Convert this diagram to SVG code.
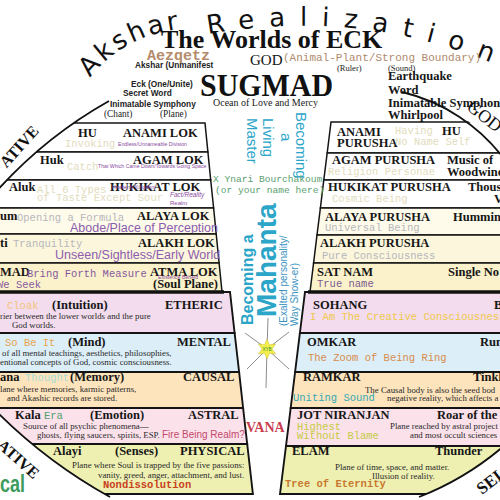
<svg xmlns="http://www.w3.org/2000/svg" width="500" height="500" viewBox="0 0 500 500">
<defs>
<clipPath id="cTL"><circle cx="324" cy="485" r="440"/></clipPath>
<clipPath id="cBL"><circle cx="358" cy="50" r="511"/></clipPath>
<clipPath id="cTR"><circle cx="364" cy="268" r="180"/></clipPath>
<clipPath id="cBR"><circle cx="310" cy="222" r="296"/></clipPath>
<path id="hw1" d="M 90 78 Q 128 30 195 28"/>
<path id="hw2" d="M 208 34 Q 360 8 494 64"/>
<style>
.L{font-family:"Liberation Serif",serif;font-weight:bold;font-size:12.5px;fill:#161616}
.d{font-family:"Liberation Serif",serif;font-size:8.8px;fill:#2a2a2a}
.m{font-family:"Liberation Mono","DejaVu Sans Mono",monospace;font-size:10.5px}
.t{font-family:"Liberation Sans",sans-serif;font-size:5.2px;fill:#8a4aa0}
.p{font-family:"Liberation Sans",sans-serif;font-size:12.5px;fill:#8c5cae}
.s{font-family:"Liberation Sans",sans-serif;font-weight:bold;font-size:8.3px;fill:#222}
.pale{fill:#e2dcbc}
.grey{fill:#b6b6bc}
.pur{fill:#86599f}
.edge{fill:none;stroke:#111;stroke-width:1.8}
.r{stroke:#141414;stroke-width:1.5}
.r2{stroke:#141414;stroke-width:1.9}
.ray{stroke:#8c8c8c;stroke-width:1}
.w{fill:#fff}.c1{fill:#fefbea}.c2{fill:#fcf6dc}.c3{fill:#fbf2cb}
.eth{fill:#f2dced}.men{fill:#dceef8}.cau{fill:#fde4bc}.ast{fill:#fbe1ea}.phy{fill:#eef0b2}
</style>
</defs>
<rect width="500" height="500" fill="#fff"/>

<g id="handwriting" font-family="DejaVu Sans, sans-serif" font-size="26" fill="#111">
<text><textPath href="#hw1" textLength="104" lengthAdjust="spacing">Akshar</textPath></text>
<text><textPath href="#hw2" textLength="288" lengthAdjust="spacing">Realization</textPath></text>
</g>

<g id="header">
<text x="161" y="48" font-family="Liberation Serif, serif" font-weight="bold" font-size="26" fill="#111">The Worlds of ECK</text>
<text x="147" y="60" font-family="Liberation Mono, monospace" font-weight="bold" font-size="15" fill="#b48c6c">Aezqetz</text>
<text x="135" y="68" class="s">Akshar (Unmanifest</text>
<text x="250" y="65" font-family="Liberation Serif, serif" font-size="15" fill="#111">GOD</text>
<text x="283" y="61" font-family="Liberation Mono, monospace" font-size="11" fill="#b08a6c">(Animal-Plant/Strong Boundary)</text>
<text x="131" y="87" class="s">Eck (One/Unite)</text>
<text x="123" y="96" class="s">Secret Word</text>
<text x="110" y="107" class="s">Inimatable Symphony</text>
<text x="104" y="117" font-family="Liberation Serif, serif" font-size="9.3" fill="#222">(Chant)</text>
<text x="160" y="117" font-family="Liberation Serif, serif" font-size="9.3" fill="#222">(Plane)</text>
<text x="200" y="96" font-family="Liberation Serif, serif" font-weight="bold" font-size="32" textLength="133" lengthAdjust="spacingAndGlyphs" fill="#111">SUGMAD</text>
<text x="213" y="106" font-family="Liberation Serif, serif" font-size="10" fill="#222">Ocean of Love and Mercy</text>
<text x="337" y="71" font-family="Liberation Serif, serif" font-size="8.5" fill="#222">(Ruler)</text>
<text x="388" y="71" font-family="Liberation Serif, serif" font-size="8.5" fill="#222">(Sound)</text>
<text x="388" y="80" class="L">Earthquake</text>
<text x="388" y="94" class="L">Word</text>
<text x="388" y="107" class="L">Inimatable Symphony</text>
<text x="388" y="119" class="L">Whirlpool</text>
</g>

<g id="left-upper" clip-path="url(#cTL)">
<g id="anami-lok"><polygon class="r w" points="-5,123 205,123 207.9,152 -5,152"/>
<text x="78" y="137" class="L">HU</text><text x="123" y="137" class="L">ANAMI LOK</text>
<text x="65" y="147" class="m pale">Invoking</text><text x="118" y="146" class="t">Endless/Unnameable Division</text></g>
<g id="agam-lok"><polygon class="r w" points="-5,152 207.9,152 210.7,180 -5,180"/>
<text x="40" y="164" class="L">Huk</text><text x="133" y="164" class="L">AGAM LOK</text>
<text x="67" y="170" class="m pale">Catch</text><text x="98" y="168" class="t">That Which Came Down/Towards Going Space</text></g>
<g id="hukikat-lok"><polygon class="r w" points="-5,180 210.7,180 213.6,208 -5,208"/>
<text x="9" y="191" class="L">Aluk</text><text x="37" y="193" class="m pale">All 6 Types</text>
<text x="110" y="191" class="L">HUKIKAT LOK</text><text x="112" y="189" class="t">Heavenly Kingdom</text>
<text x="170" y="197" font-family="Liberation Sans, sans-serif" font-size="6.5" font-style="italic" fill="#8a4aa0">Fact/Reality</text>
<text x="37" y="201" class="m pale">of Taste Except Sour</text>
<text x="170" y="205" font-family="Liberation Sans, sans-serif" font-size="6" fill="#8a4aa0">Realm</text></g>
<g id="alaya-lok"><polygon class="r c1" points="-5,208 213.6,208 216.2,234 -5,234"/>
<text x="0" y="220" class="L">um</text><text x="17" y="221" class="m grey">Opening a Formula</text>
<text x="137" y="220" class="L">ALAYA LOK</text><text x="70" y="232" class="p">Abode/Place of Perception</text></g>
<g id="alakh-lok"><polygon class="r c2" points="-5,234 216.2,234 219.1,263 -5,263"/>
<text x="0" y="247" class="L">ti</text><text x="13" y="247" class="m grey">Tranquility</text>
<text x="138" y="247" class="L">ALAKH LOK</text><text x="55" y="259" class="p">Unseen/Sightless/Early World</text></g>
<g id="atma-lok"><polygon class="r c3" points="-5,263 219.1,263 222,292 -5,292"/>
<text x="0" y="276" class="L">MAD</text><text x="27" y="277" class="m pur">Bring Forth Measure</text>
<text x="150" y="276" class="L">ATMA LOK</text><text x="158" y="279" class="t">Existence Beheld</text>
<text x="-3" y="288" class="m pur">We Seek</text><text x="153" y="288" class="L">(Soul Plane)</text></g>
</g>

<g id="left-lower" clip-path="url(#cBL)">
<g id="etheric"><polygon class="r2 eth" points="-5,292 230,292 234.6,333 -5,333"/>
<text x="7" y="309" class="m" fill="#f4c47c">Cloak</text><text x="52" y="309" class="L">(Intuition)</text>
<text x="165" y="309" class="L">ETHERIC</text>
<text x="0" y="319" class="d">rier between the lower worlds and the pure</text>
<text x="12" y="328" class="d">God worlds.</text></g>
<g id="mental"><polygon class="r2 men" points="-5,333 234.6,333 239.1,372 -5,372"/>
<text x="5" y="346" class="m" fill="#e8a44c">So Be It</text><text x="68" y="346" class="L">(Mind)</text>
<text x="177" y="346" class="L">MENTAL</text>
<text x="2" y="356" class="d">of all mental teachings, aesthetics, philosophies,</text>
<text x="0" y="365" class="d">entional concepts of God, cosmic consciousness.</text></g>
<g id="causal"><polygon class="r2 cau" points="-5,372 239.1,372 243.1,408 -5,408"/>
<text x="0" y="381" class="L">ana</text><text x="25" y="381" class="m" fill="#a8dcd6">Thought</text>
<text x="70" y="381" class="L">(Memory)</text><text x="183" y="381" class="L">CAUSAL</text>
<text x="0" y="392" class="d">lane where memories, karmic patterns,</text>
<text x="7" y="401" class="d">and Akashic records are stored.</text></g>
<g id="astral"><polygon class="r2 ast" points="-5,408 243.1,408 247.2,444 -5,444"/>
<text x="15" y="419" class="L">Kala</text><text x="44" y="419" class="m" fill="#4f9f6f">Era</text>
<text x="90" y="419" class="L">(Emotion)</text><text x="188" y="419" class="L">ASTRAL</text>
<text x="23" y="429" class="d">Source of all psychic phenomena—</text>
<text x="37" y="438" class="d">ghosts, flying saucers, spirits, ESP.</text>
<text x="162" y="438" font-family="Liberation Sans, sans-serif" font-size="10" fill="#c4486a">Fire Being Realm?</text></g>
<g id="physical"><polygon class="r2 phy" points="-5,444 247.2,444 252.9,494 -5,494"/>
<text x="53" y="455" class="L">Alayi</text><text x="115" y="455" class="L">(Senses)</text>
<text x="180" y="455" class="L">PHYSICAL</text>
<text x="72" y="468" class="d">Plane where Soul is trapped by the five passions:</text>
<text x="98" y="478" class="d">vanity, greed, anger, attachment, and lust.</text>
<text x="103" y="488" class="m" font-weight="bold" fill="#c8401c">Nondissolution</text></g>
</g>

<g id="right-upper" clip-path="url(#cTR)">
<g id="anami-purusha"><polygon class="r w" points="331,122 505,122 505,153 327.2,153"/>
<text x="337" y="136" class="L">ANAMI</text><text x="337" y="147" class="L">PURUSHA</text>
<text x="395" y="134" class="m pale">Having</text><text x="395" y="145" class="m pale">No Name Self</text>
<text x="442" y="135" class="L">HU</text></g>
<g id="agam-purusha"><polygon class="r w" points="327.2,153 505,153 505,180 323.8,180"/>
<text x="332" y="164" class="L">AGAM PURUSHA</text><text x="328" y="175" class="m pale">Religion Personae</text>
<text x="447" y="164" class="L">Music of</text><text x="447" y="176" class="L">Woodwind</text></g>
<g id="hukikat-purusha"><polygon class="r w" points="323.8,180 505,180 505,208 320.4,208"/>
<text x="328" y="191" class="L">HUKIKAT PURUSHA</text><text x="468" y="191" class="L">Thous</text>
<text x="332" y="202" class="m pale">Cosmic Being</text><text x="494" y="203" class="L">V</text></g>
<g id="alaya-purusha"><polygon class="r c1" points="320.4,208 505,208 505,235 317,235"/>
<text x="325" y="221" class="L">ALAYA PURUSHA</text><text x="453" y="221" class="L">Humming</text>
<text x="325" y="231" class="m grey">Universal Being</text></g>
<g id="alakh-purusha"><polygon class="r c2" points="317,235 505,235 505,263 313.6,263"/>
<text x="320" y="247" class="L">ALAKH PURUSHA</text><text x="322" y="259" class="m grey">Pure Consciousness</text></g>
<g id="sat-nam"><polygon class="r c3" points="313.6,263 505,263 505,292 310,292"/>
<text x="317" y="276" class="L">SAT NAM</text><text x="448" y="276" class="L">Single No</text>
<text x="317" y="287" class="m" fill="#7a5a92">True name</text></g>
</g>

<g id="right-lower" clip-path="url(#cBR)">
<g id="sohang"><polygon class="r2 eth" points="305,292 505,292 505,333 299.9,333"/>
<text x="313" y="309" class="L">SOHANG</text><text x="494" y="309" class="L">B</text>
<text x="310" y="320" class="m" fill="#f0c84c">I Am The Creative Consciousness</text></g>
<g id="omkar"><polygon class="r2 men" points="299.9,333 505,333 505,372 295.1,372"/>
<text x="307" y="346" class="L">OMKAR</text><text x="480" y="346" class="L">Run</text>
<text x="308" y="361" class="m" fill="#d88c4c">The Zoom of Being Ring</text></g>
<g id="ramkar"><polygon class="r2 cau" points="295.1,372 505,372 505,408 290.7,408"/>
<text x="303" y="381" class="L">RAMKAR</text><text x="473" y="381" class="L">Tinkl</text>
<text x="365" y="393" class="d">The Causal body is also the seed bod</text>
<text x="387" y="401" class="d">negative reality, which affects a</text>
<text x="293" y="401" class="m" fill="#34a8b8">Uniting Sound</text></g>
<g id="jot-niranjan"><polygon class="r2 ast" points="290.7,408 505,408 505,446 286,446"/>
<text x="297" y="419" class="L">JOT NIRANJAN</text><text x="437" y="419" class="L">Roar of the</text>
<text x="297" y="430" class="m" fill="#c4cc44">Highest</text><text x="297" y="439" class="m" fill="#c4cc44">Without Blame</text>
<text x="390" y="429" class="d">Plane reached by astral project</text>
<text x="410" y="438" class="d">and most occult sciences</text></g>
<g id="elam"><polygon class="r2 phy" points="286,446 505,446 505,494 280,494"/>
<text x="292" y="455" class="L">ELAM</text><text x="435" y="455" class="L">Thunder</text>
<text x="335" y="470" class="d">Plane of time, space, and matter.</text>
<text x="372" y="479" class="d">Illusion of reality.</text>
<text x="285" y="487" class="m" font-weight="bold" fill="#c87830">Tree of Eternity</text></g>
</g>

<g id="connectors">
<line x1="0" y1="292" x2="224" y2="292" stroke="#111" stroke-width="3.5"/>
<line x1="308" y1="292" x2="500" y2="292" stroke="#111" stroke-width="3.5"/>
<path class="edge" d="M 109 101 A 440 440 0 0 0 -5 193"/>
<path class="edge" d="M -5 410 A 511 511 0 0 0 110 497"/>
<path class="edge" d="M 402 92 A 180 180 0 0 1 505 160"/>
<path class="edge" d="M 419 497 A 296 296 0 0 0 505 445"/>
<line class="ray" x1="267" y1="349" x2="268" y2="318"/>
<line class="ray" x1="267" y1="349" x2="266" y2="388"/>
<line class="ray" x1="267" y1="349" x2="245" y2="333"/>
<line class="ray" x1="267" y1="349" x2="247" y2="369"/>
<line class="ray" x1="267" y1="349" x2="289" y2="332"/>
<line class="ray" x1="267" y1="349" x2="289" y2="369"/>
</g>

<g id="arc-labels" font-family="Liberation Serif, serif" font-weight="bold" fill="#111">
<text transform="translate(23,150) rotate(-48)" text-anchor="middle" font-size="16">ATIVE</text>
<text transform="translate(15,463) rotate(42)" text-anchor="middle" font-size="16">ATIVE</text>
<text transform="translate(481,121) rotate(38)" text-anchor="middle" font-size="18" font-weight="normal">GOD</text>
<text transform="translate(482,495) rotate(-38)" font-size="17">SEL</text>
<text x="0" y="492" font-family="Liberation Sans, sans-serif" font-size="24" textLength="25" lengthAdjust="spacingAndGlyphs" fill="#3d9b5e">cal</text>
</g>

<g id="living-master" fill="#2ba5c8" font-family="Liberation Sans, sans-serif" font-size="15">
<text transform="translate(296,112) rotate(90)">Becoming</text>
<text transform="translate(281,133) rotate(90)">a</text>
<text transform="translate(263,118) rotate(90)">Living</text>
<text transform="translate(247,118) rotate(90)">Master</text>
</g>

<g id="name" font-family="Liberation Mono, monospace" font-size="9.6" fill="#5aa070">
<text x="213" y="182">X Ynari Bourchakoum</text>
<text x="215" y="193">(or your name here)</text>
</g>

<g id="mahanta" font-family="Liberation Sans, sans-serif" fill="#2ba5c8">
<text transform="translate(253,325) rotate(-90)" font-weight="bold" font-size="16">Becoming a</text>
<text transform="translate(276,317) rotate(-90)" font-weight="bold" font-size="28">Mahanta</text>
<text transform="translate(287,326) rotate(-90)" font-size="10" fill="#3a92c0">(Exalted personality/</text>
<text transform="translate(298,326) rotate(-90)" font-size="10" fill="#3a92c0">Way Show-er)</text>
</g>

<g id="star">
<polygon points="267,339 269.5,344.67 275.66,344 272,349 275.66,354 269.5,353.33 267,359 264.5,353.33 258.34,354 262,349 258.34,344 264.5,344.67" fill="#f3ee4a" stroke="#c8c040" stroke-width="0.5"/>
<text x="267" y="350.5" text-anchor="middle" font-family="Liberation Sans, sans-serif" font-size="4.5" fill="#2a8a3a">XYB</text>
</g>

<g id="nirvana">
<text x="246" y="432" font-family="Liberation Serif, serif" font-weight="bold" font-size="14" fill="#c84050">VANA</text>
</g>
</svg>
